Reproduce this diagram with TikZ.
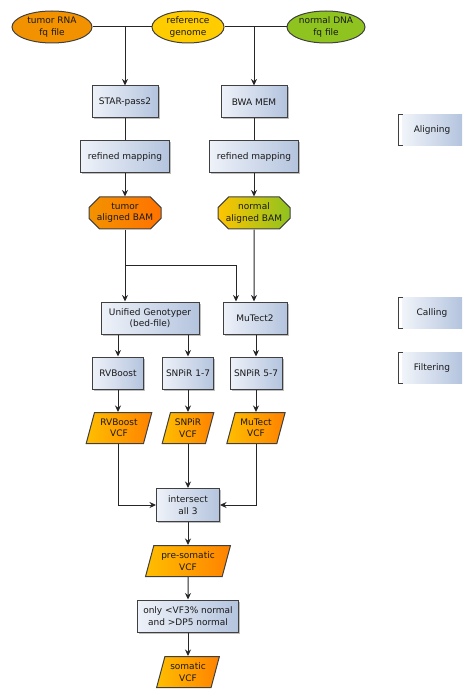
\documentclass[tikz,border=0pt]{standalone}
\usepackage{fontspec}
\setmainfont{DejaVu Sans}
\usetikzlibrary{arrows.meta, positioning, calc, shapes.geometric, shapes.misc, shadows}
\definecolor{tumorc}{HTML}{F39200}
\definecolor{refc}{HTML}{FFCC00}
\definecolor{normc}{HTML}{8FC31F}
\definecolor{boxL}{HTML}{EEF2F9}
\definecolor{boxR}{HTML}{B4C4DE}
\definecolor{vcfL}{HTML}{FFBE00}
\definecolor{vcfR}{HTML}{FF8200}

\begin{document}
\begin{tikzpicture}[x=1pt, y=-1pt,
  every node/.style={font=\fontsize{9}{11.5}\selectfont, text=black!90, align=center},
  line/.style={draw=black!85, line width=1pt},
  arr/.style={line, -{Stealth[length=6.5pt,width=6pt]}},
  proc/.style={draw=black!75, line width=1pt, left color=boxL, right color=boxR,
    minimum height=32pt, inner xsep=4pt,
    drop shadow={shadow xshift=1.5pt, shadow yshift=-1.5pt, opacity=0.25, fill=black}},
  src/.style={ellipse, draw=black!75, line width=1pt, minimum height=32pt, inner sep=0pt},
  bam/.style={chamfered rectangle, chamfered rectangle xsep=7pt, draw=black!75, line width=1pt,
    minimum height=32pt, minimum width=72pt, inner sep=0pt},
  vcf/.style={trapezium, trapezium left angle=75, trapezium right angle=105, draw=black!75,
    line width=1pt, left color=vcfL, right color=vcfR, minimum height=31pt, inner xsep=1pt},
  phase/.style={left color=boxL!80!white, right color=boxR, minimum width=60pt, minimum height=31pt}]
\useasboundingbox (0,0) rectangle (474,700);
% Inputs
\node[src, fill=tumorc, minimum width=80pt] (tfq) at (52,27) {tumor RNA\\fq file};
\node[src, fill=refc, minimum width=72pt] (ref) at (188,27) {reference\\genome};
\node[src, fill=normc, minimum width=78pt] (nfq) at (326,27) {normal DNA\\fq file};
\draw[line] (tfq) -- (ref) -- (nfq);
\coordinate (jt) at (125,27);
\coordinate (jn) at (254,27);
% Aligning
\node[proc, minimum width=66pt] (star) at (125,102) {STAR-pass2};
\node[proc, minimum width=66pt] (bwa) at (254,102) {BWA MEM};
\node[proc, minimum width=89pt] (rmT) at (125,157) {refined mapping};
\node[proc, minimum width=89pt] (rmN) at (254,157) {refined mapping};
\node[bam, left color=tumorc, middle color=orange!60!yellow, right color=orange!90!red] (bamT) at (125,213) {tumor\\aligned BAM};
\node[bam, left color=refc!90!orange, right color=normc] (bamN) at (254,213) {normal\\aligned BAM};
\draw[arr] (jt) -- (star);
\draw[arr] (jn) -- (bwa);
\draw[line] (star) -- (rmT);
\draw[line] (bwa) -- (rmN);
\draw[arr] (rmT) -- (bamT);
\draw[arr] (rmN) -- (bamN);
% Calling
\node[proc, minimum width=98pt] (ug) at (150,318) {Unified Genotyper\\(bed-file)};
\node[proc, minimum width=64pt] (mut) at (255,318) {MuTect2};
\coordinate (sp) at (125,265);
\draw[line] (bamT) -- (sp);
\draw[arr] (sp) -- (ug.north -| sp);
\draw[arr] (sp) -| ([xshift=-19pt]mut.north);
\draw[arr] (bamN) -- (bamN |- mut.north);
% Filtering
\node[proc, minimum width=51pt] (rvb) at (118,373) {RVBoost};
\node[proc, minimum width=51pt] (snpA) at (188,373) {SNPiR 1-7};
\node[proc, minimum width=51pt] (snpB) at (256,373) {SNPiR 5-7};
\draw[arr] (rvb |- ug.south) -- (rvb);
\draw[arr] (snpA |- ug.south) -- (snpA);
\draw[arr] (snpB |- mut.south) -- (snpB);
% VCF files
\node[vcf] (vcfR) at (119,428) {RVBoost\\VCF};
\node[vcf] (vcfS) at (188,428) {SNPiR\\VCF};
\node[vcf] (vcfM) at (256,428) {MuTect\\VCF};
\draw[arr] (rvb) -- (rvb |- vcfR.north);
\draw[arr] (snpA) -- (vcfS);
\draw[arr] (snpB) -- (snpB |- vcfM.north);
% Intersection and final filter
\node[proc, minimum width=63pt, minimum height=33pt] (inter) at (188,505) {intersect\\all 3};
\node[vcf] (pre) at (188,561) {pre-somatic\\VCF};
\node[proc, minimum width=101pt] (fin) at (188,616) {only <VF3\% normal\\and >DP5 normal};
\node[vcf] (som) at (188,672) {somatic\\VCF};
\draw[arr] (rvb |- vcfR.south) |- (inter);
\draw[arr] (vcfS) -- (inter);
\draw[arr] (snpB |- vcfM.south) |- (inter);
\draw[arr] (inter) -- (pre);
\draw[arr] (pre) -- (fin);
\draw[arr] (fin) -- (som);
% Phase labels
\node[phase] (algn) at (432,130) {Aligning};
\node[phase] (call) at (432,313) {Calling};
\node[phase] (filt) at (432,368) {Filtering};
\foreach \p in {algn,call,filt}
  \draw[black!75, line width=1pt] ([xshift=1pt]\p.north west) -- ([xshift=-3pt]\p.north west)
    -- ([xshift=-3pt]\p.south west) -- ([xshift=1pt]\p.south west);
\end{tikzpicture}
\end{document}
